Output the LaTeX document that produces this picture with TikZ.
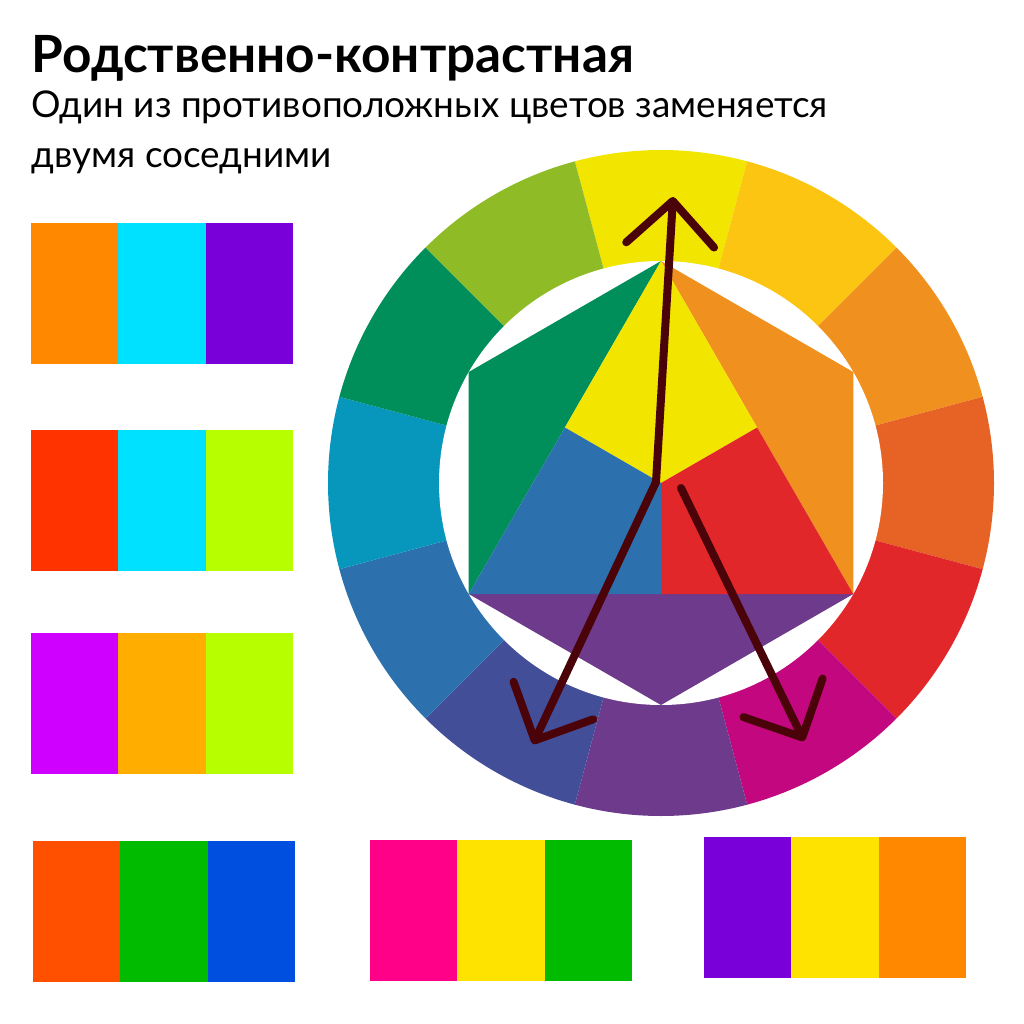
\documentclass[tikz,border=0pt]{standalone}
\usepackage{fontspec}
\setmainfont{Lato}
\usetikzlibrary{arrows.meta,calc,positioning}
\definecolor{wheelyellow}{HTML}{F2E500}
\definecolor{wheelyelloworange}{HTML}{FCC512}
\definecolor{wheelorange}{HTML}{F0911F}
\definecolor{wheelredorange}{HTML}{E66325}
\definecolor{wheelred}{HTML}{E1272A}
\definecolor{wheelredviolet}{HTML}{C3087F}
\definecolor{wheelviolet}{HTML}{6E3A8C}
\definecolor{wheelblueviolet}{HTML}{434E99}
\definecolor{wheelblue}{HTML}{2C71AE}
\definecolor{wheelbluegreen}{HTML}{0796BC}
\definecolor{wheelgreen}{HTML}{008F5A}
\definecolor{wheelyellowgreen}{HTML}{8FBB27}
\definecolor{arrowbrown}{HTML}{4A0409}
\definecolor{palorange}{HTML}{FF8800}
\definecolor{palcyan}{HTML}{00E1FF}
\definecolor{palviolet}{HTML}{7A00D9}
\definecolor{palred}{HTML}{FF3300}
\definecolor{pallime}{HTML}{B7FF00}
\definecolor{palmagenta}{HTML}{CF00FF}
\definecolor{palamber}{HTML}{FFAE00}
\definecolor{palvermilion}{HTML}{FF5000}
\definecolor{palgreen}{HTML}{00BB00}
\definecolor{palblue}{HTML}{004FDF}
\definecolor{palpink}{HTML}{FF0088}
\definecolor{palyellow}{HTML}{FFE300}
\tikzset{
  swatch/.style={minimum width=8.73mm, minimum height=14.1mm, inner sep=0pt, outer sep=0pt, anchor=north west},
  pointer/.style={draw=arrowbrown, line width=0.8mm, line cap=round,
    -{Straight Barb[length=4.4mm, width=8.8mm, round]}},
  heading/.style={anchor=base west, inner sep=0pt, font=\fontsize{14.6pt}{17pt}\selectfont\bfseries},
  subheading/.style={anchor=base west, inner sep=0pt, font=\fontsize{10.5pt}{12pt}\selectfont},
}

\begin{document}
\begin{tikzpicture}[x=0.1mm, y=-0.1mm]
\fill[white] (0,0) rectangle (1024,1024);
\useasboundingbox (0,0) rectangle (1024,1024);

% title
\node[heading] (title) at (31,73) {Родственно-контрастная};
\node[subheading] (sub1) at (31,118) {Один из противоположных цветов заменяется};
\node[subheading] (sub2) at (31,168) {двумя соседними};

% colour wheel
\coordinate (c) at (661,483);
\foreach \col [count=\i from 0] in {wheelyellow, wheelyelloworange, wheelorange, wheelredorange,
    wheelred, wheelredviolet, wheelviolet, wheelblueviolet, wheelblue, wheelbluegreen,
    wheelgreen, wheelyellowgreen}
  \fill[\col] (c) -- ++({30*\i-105}:333) arc[start angle={30*\i-105}, delta angle=30, radius=333] -- cycle;
\fill[white] (c) circle[radius=222];

% hexagon
\coordinate (vT)  at ($(c)+(-90:222)$);
\coordinate (vTR) at ($(c)+(-30:222)$);
\coordinate (vBR) at ($(c)+(30:222)$);
\coordinate (vB)  at ($(c)+(90:222)$);
\coordinate (vBL) at ($(c)+(150:222)$);
\coordinate (vTL) at ($(c)+(210:222)$);
\coordinate (mL) at ($(vT)!0.5!(vBL)$);
\coordinate (mR) at ($(vT)!0.5!(vBR)$);
\coordinate (mB) at ($(vBL)!0.5!(vBR)$);
\fill[wheelgreen]  (vT) -- (vTL) -- (vBL) -- cycle;
\fill[wheelorange] (vT) -- (vTR) -- (vBR) -- cycle;
\fill[wheelviolet] (vBL) -- (vBR) -- (vB) -- cycle;
\fill[wheelyellow] (vT) -- (mR) -- (c) -- (mL) -- cycle;
\fill[wheelred]    (vBR) -- (mB) -- (c) -- (mR) -- cycle;
\fill[wheelblue]   (vBL) -- (mL) -- (c) -- (mB) -- cycle;

% arrows
\coordinate (base)  at (656,482);
\coordinate (baseR) at (681,488);
\coordinate (tipYellow) at (673,197);
\coordinate (tipBlueViolet) at (533,744);
\coordinate (tipRedViolet) at (804,741);
\draw[pointer] (base) -- (tipYellow);
\draw[pointer] (base) -- (tipBlueViolet);
\draw[pointer] (baseR) -- (tipRedViolet);

% palettes
\node[swatch, fill=palorange] (p1a) at (31,223) {};
\node[swatch, fill=palcyan, right=0pt of p1a] (p1b) {};
\node[swatch, fill=palviolet, right=0pt of p1b] (p1c) {};

\node[swatch, fill=palred] (p2a) at (31,430) {};
\node[swatch, fill=palcyan, right=0pt of p2a] (p2b) {};
\node[swatch, fill=pallime, right=0pt of p2b] (p2c) {};

\node[swatch, fill=palmagenta] (p3a) at (31,633) {};
\node[swatch, fill=palamber, right=0pt of p3a] (p3b) {};
\node[swatch, fill=pallime, right=0pt of p3b] (p3c) {};

\node[swatch, fill=palvermilion] (p4a) at (33,841) {};
\node[swatch, fill=palgreen, right=0pt of p4a] (p4b) {};
\node[swatch, fill=palblue, right=0pt of p4b] (p4c) {};

\node[swatch, fill=palpink] (p5a) at (370,840) {};
\node[swatch, fill=palyellow, right=0pt of p5a] (p5b) {};
\node[swatch, fill=palgreen, right=0pt of p5b] (p5c) {};

\node[swatch, fill=palviolet] (p6a) at (704,837) {};
\node[swatch, fill=palyellow, right=0pt of p6a] (p6b) {};
\node[swatch, fill=palorange, right=0pt of p6b] (p6c) {};
\end{tikzpicture}
\end{document}
